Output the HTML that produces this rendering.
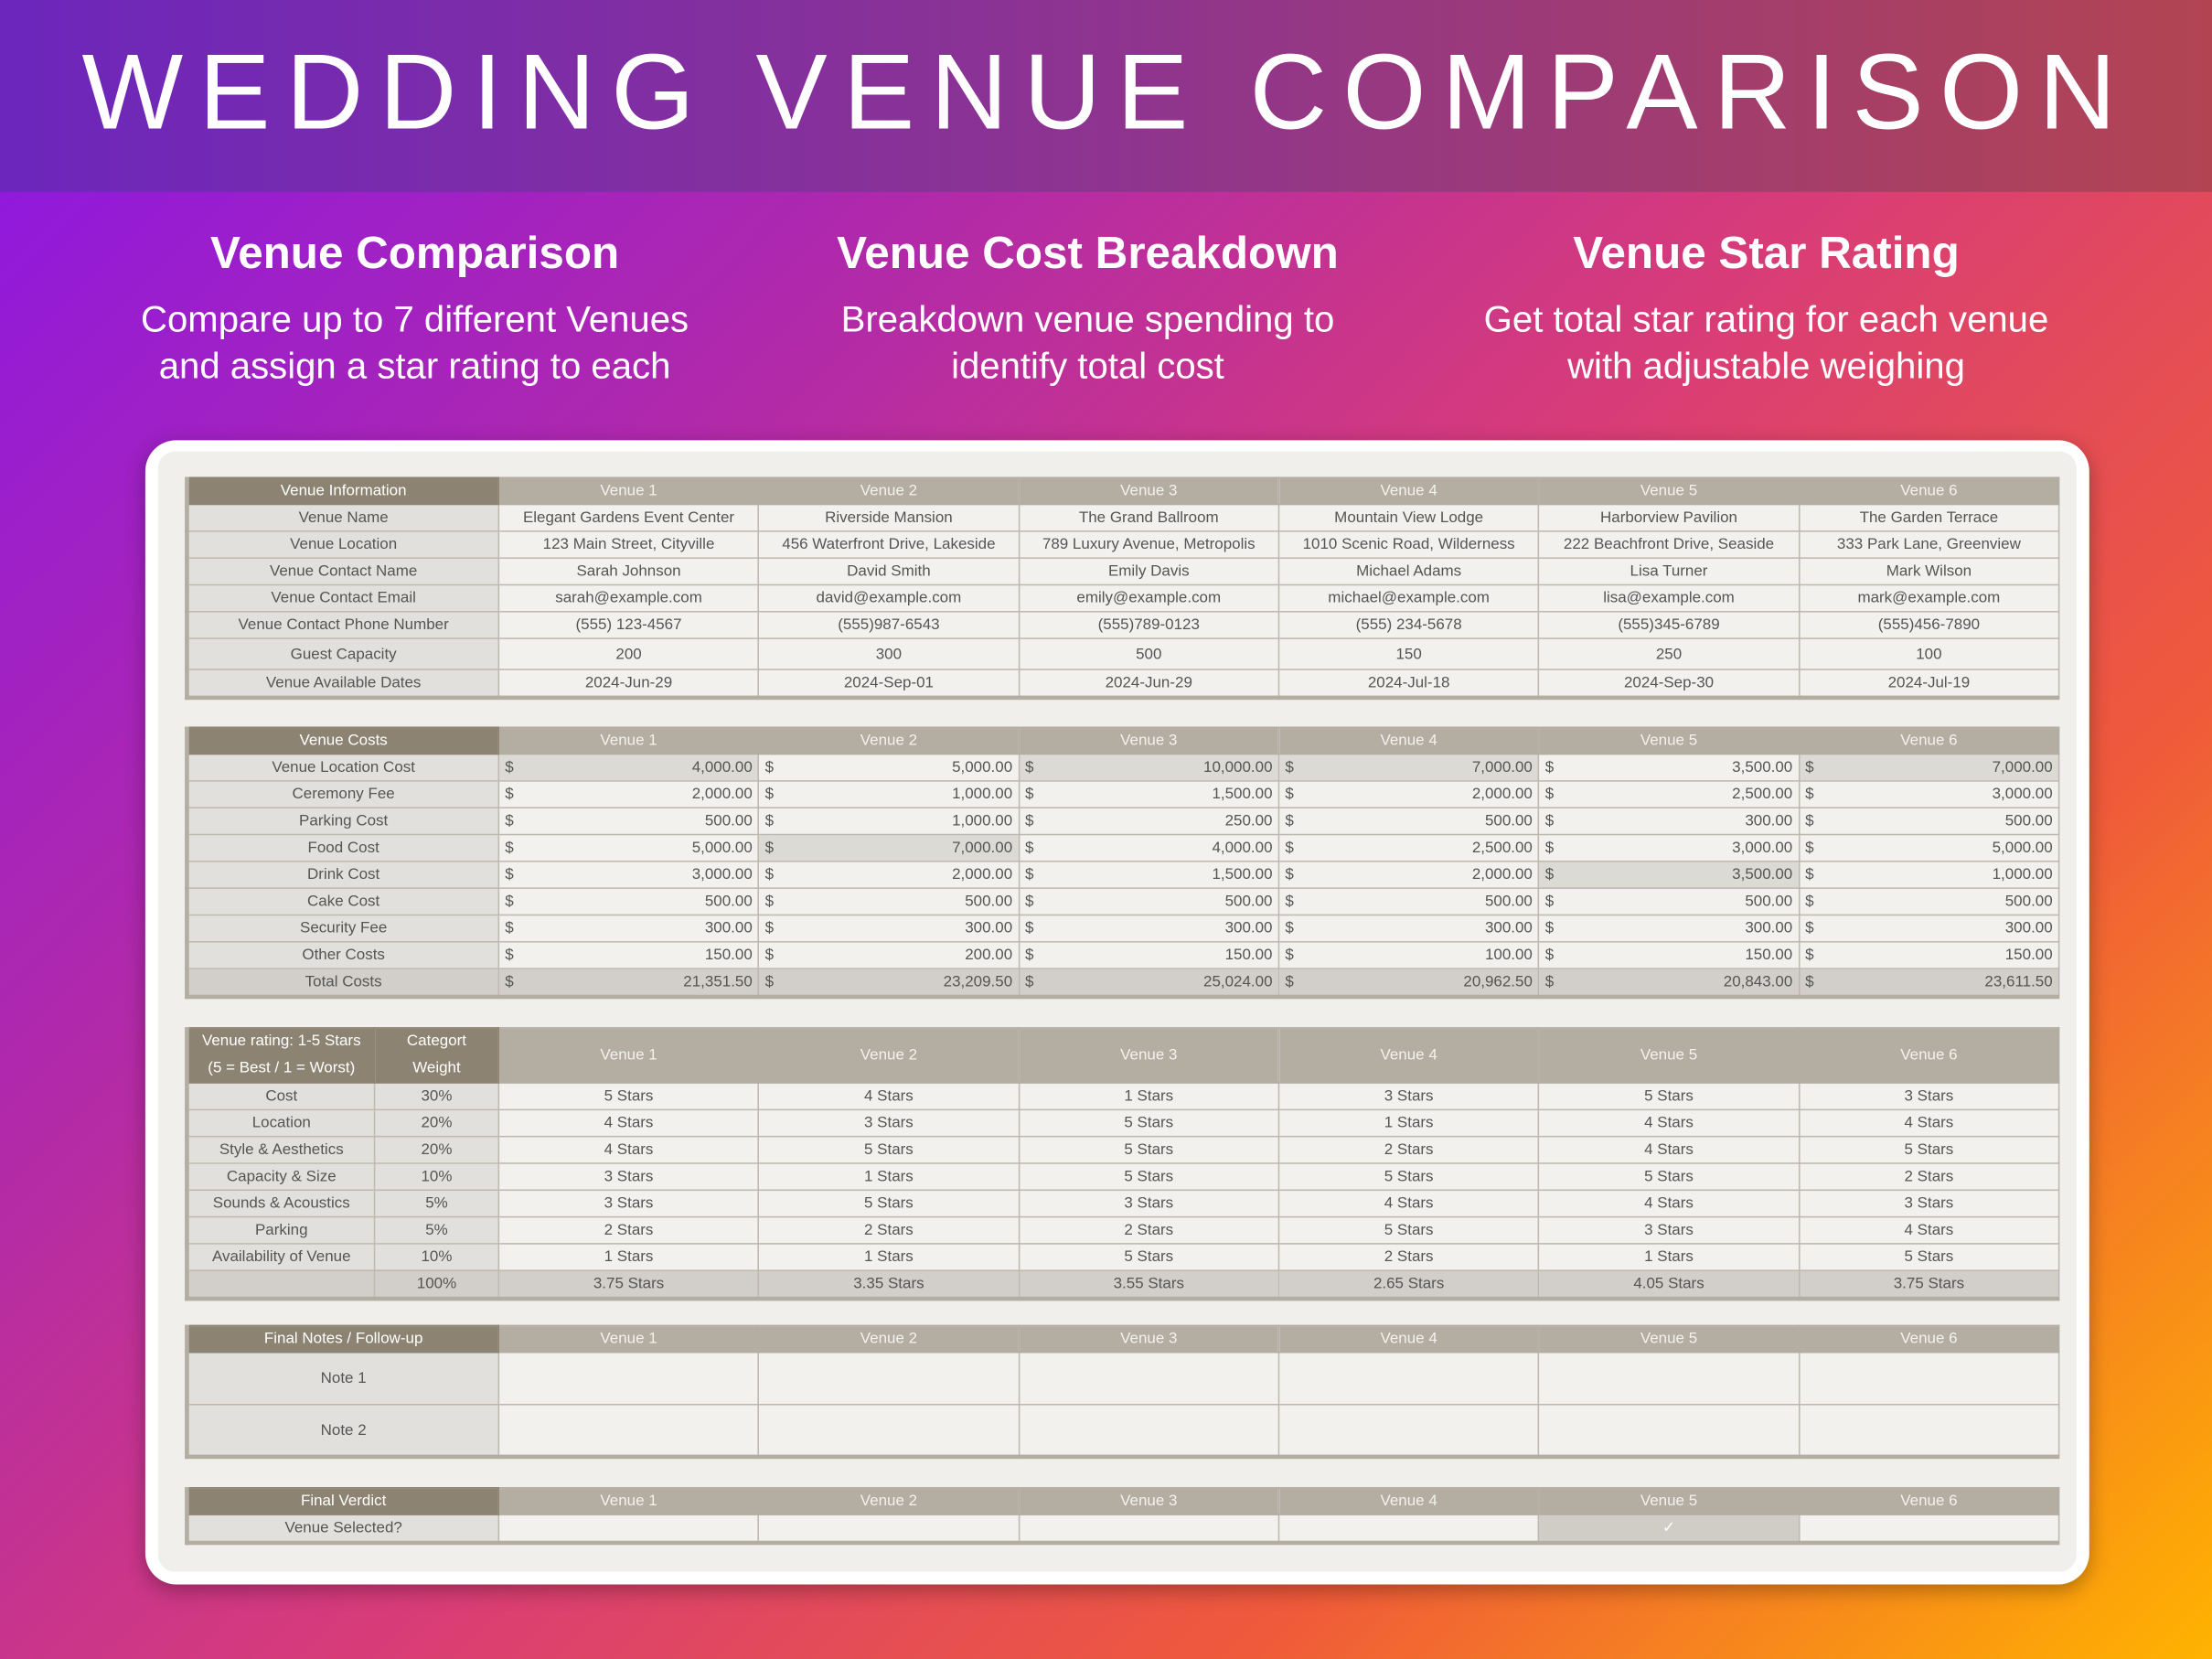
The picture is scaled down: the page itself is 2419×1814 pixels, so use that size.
<!DOCTYPE html>
<html><head><meta charset="utf-8">
<style>
html,body{margin:0;padding:0;width:2419px;height:1814px;overflow:hidden;}
#w{position:absolute;left:0;top:0;width:1568px;height:1176px;transform:scale(1.54273);transform-origin:0 0;
 background:linear-gradient(135deg,#8a16e6 0%,#b22aa8 30%,#d83c78 52%,#ef5a3a 75%,#ffb300 100%);
 font-family:"Liberation Sans",sans-serif;overflow:hidden;}
#hd{position:absolute;left:0;top:0;width:1568px;height:136px;background:linear-gradient(90deg,#6c26bc,#8e3490 50%,#b24452);}
#hd svg{position:absolute;left:0;top:0}
.f{position:absolute;top:158px;width:520px;text-align:center;color:#fff;font-family:"Liberation Sans",sans-serif}
.f b{display:block;font-size:32px;line-height:42px;}
.f span{display:block;font-size:26px;line-height:33px;margin-top:10px}
#card{position:absolute;left:103px;top:312px;width:1378px;height:811px;background:#fff;border-radius:22px;box-shadow:0 4px 14px rgba(0,0,0,.3)}
#in{position:absolute;left:9px;top:8px;width:1360px;height:794px;background:#f0efeb;border-radius:12px}
table{position:absolute;left:131px;border-collapse:collapse;table-layout:fixed;width:1329px;font-size:11px;color:#555;}
td{border:1px solid #bdb8b0;text-align:center;padding:0 4px;height:18px;line-height:18px;white-space:nowrap;overflow:hidden;background:#f2f1ee}
td.l{background:#e1e0dc}
tr.h td{background:#b3ada2;color:#f4f2ee;border-color:#b3ada2}
tr.h td.l{background:#8d8372;color:#fff;border-color:#8d8372}
table{border-bottom:3px solid #b3ada2;border-left:3px solid #b3ada2}
td.m{text-align:right}
td.m i{float:left;font-style:normal}
tr.t td{background:#d2cfca}
.g{background:#dcdad5!important}
</style></head><body><div id="w">
<div id="hd"><svg width="1568" height="136"><text x="58" y="91" textLength="1442" lengthAdjust="spacing" fill="#fff" font-family="Liberation Sans, sans-serif" font-size="76">WEDDING VENUE COMPARISON</text></svg></div>
<div class="f" style="left:34px"><b>Venue Comparison</b><span>Compare up to 7 different Venues<br>and assign a star rating to each</span></div>
<div class="f" style="left:511px"><b>Venue Cost Breakdown</b><span>Breakdown venue spending to<br>identify total cost</span></div>
<div class="f" style="left:992px"><b>Venue Star Rating</b><span>Get total star rating for each venue<br>with adjustable weighing</span></div>
<div id="card"><div id="in"></div></div>

<table style="top:338px"><colgroup><col style="width:221px"><col><col><col><col><col><col></colgroup>
<tr class="h"><td class="l">Venue Information</td><td>Venue 1</td><td>Venue 2</td><td>Venue 3</td><td>Venue 4</td><td>Venue 5</td><td>Venue 6</td></tr>
<tr><td class="l">Venue Name</td><td>Elegant Gardens Event Center</td><td>Riverside Mansion</td><td>The Grand Ballroom</td><td>Mountain View Lodge</td><td>Harborview Pavilion</td><td>The Garden Terrace</td></tr>
<tr><td class="l">Venue Location</td><td>123 Main Street, Cityville</td><td>456 Waterfront Drive, Lakeside</td><td>789 Luxury Avenue, Metropolis</td><td>1010 Scenic Road, Wilderness</td><td>222 Beachfront Drive, Seaside</td><td>333 Park Lane, Greenview</td></tr>
<tr><td class="l">Venue Contact Name</td><td>Sarah Johnson</td><td>David Smith</td><td>Emily Davis</td><td>Michael Adams</td><td>Lisa Turner</td><td>Mark Wilson</td></tr>
<tr><td class="l">Venue Contact Email</td><td>sarah@example.com</td><td>david@example.com</td><td>emily@example.com</td><td>michael@example.com</td><td>lisa@example.com</td><td>mark@example.com</td></tr>
<tr><td class="l">Venue Contact Phone Number</td><td>(555) 123-4567</td><td>(555)987-6543</td><td>(555)789-0123</td><td>(555) 234-5678</td><td>(555)345-6789</td><td>(555)456-7890</td></tr>
<tr><td class="l" style="height:21px">Guest Capacity</td><td>200</td><td>300</td><td>500</td><td>150</td><td>250</td><td>100</td></tr>
<tr><td class="l">Venue Available Dates</td><td>2024-Jun-29</td><td>2024-Sep-01</td><td>2024-Jun-29</td><td>2024-Jul-18</td><td>2024-Sep-30</td><td>2024-Jul-19</td></tr>
</table>

<table style="top:515px"><colgroup><col style="width:221px"><col><col><col><col><col><col></colgroup>
<tr class="h"><td class="l">Venue Costs</td><td>Venue 1</td><td>Venue 2</td><td>Venue 3</td><td>Venue 4</td><td>Venue 5</td><td>Venue 6</td></tr>
<tr><td class="l">Venue Location Cost</td><td class="m g"><i>$</i>4,000.00</td><td class="m"><i>$</i>5,000.00</td><td class="m g"><i>$</i>10,000.00</td><td class="m g"><i>$</i>7,000.00</td><td class="m"><i>$</i>3,500.00</td><td class="m g"><i>$</i>7,000.00</td></tr>
<tr><td class="l">Ceremony Fee</td><td class="m"><i>$</i>2,000.00</td><td class="m"><i>$</i>1,000.00</td><td class="m"><i>$</i>1,500.00</td><td class="m"><i>$</i>2,000.00</td><td class="m"><i>$</i>2,500.00</td><td class="m"><i>$</i>3,000.00</td></tr>
<tr><td class="l">Parking Cost</td><td class="m"><i>$</i>500.00</td><td class="m"><i>$</i>1,000.00</td><td class="m"><i>$</i>250.00</td><td class="m"><i>$</i>500.00</td><td class="m"><i>$</i>300.00</td><td class="m"><i>$</i>500.00</td></tr>
<tr><td class="l">Food Cost</td><td class="m"><i>$</i>5,000.00</td><td class="m g"><i>$</i>7,000.00</td><td class="m"><i>$</i>4,000.00</td><td class="m"><i>$</i>2,500.00</td><td class="m"><i>$</i>3,000.00</td><td class="m"><i>$</i>5,000.00</td></tr>
<tr><td class="l">Drink Cost</td><td class="m"><i>$</i>3,000.00</td><td class="m"><i>$</i>2,000.00</td><td class="m"><i>$</i>1,500.00</td><td class="m"><i>$</i>2,000.00</td><td class="m g"><i>$</i>3,500.00</td><td class="m"><i>$</i>1,000.00</td></tr>
<tr><td class="l">Cake Cost</td><td class="m"><i>$</i>500.00</td><td class="m"><i>$</i>500.00</td><td class="m"><i>$</i>500.00</td><td class="m"><i>$</i>500.00</td><td class="m"><i>$</i>500.00</td><td class="m"><i>$</i>500.00</td></tr>
<tr><td class="l">Security Fee</td><td class="m"><i>$</i>300.00</td><td class="m"><i>$</i>300.00</td><td class="m"><i>$</i>300.00</td><td class="m"><i>$</i>300.00</td><td class="m"><i>$</i>300.00</td><td class="m"><i>$</i>300.00</td></tr>
<tr><td class="l">Other Costs</td><td class="m"><i>$</i>150.00</td><td class="m"><i>$</i>200.00</td><td class="m"><i>$</i>150.00</td><td class="m"><i>$</i>100.00</td><td class="m"><i>$</i>150.00</td><td class="m"><i>$</i>150.00</td></tr>
<tr class="t"><td class="l">Total Costs</td><td class="m"><i>$</i>21,351.50</td><td class="m"><i>$</i>23,209.50</td><td class="m"><i>$</i>25,024.00</td><td class="m"><i>$</i>20,962.50</td><td class="m"><i>$</i>20,843.00</td><td class="m"><i>$</i>23,611.50</td></tr>
</table>

<table style="top:728px"><colgroup><col style="width:133px"><col style="width:88px"><col><col><col><col><col><col></colgroup>
<tr class="h"><td class="l" style="height:37px;line-height:19px">Venue rating: 1-5 Stars<br>(5 = Best / 1 = Worst)</td><td class="l" style="line-height:19px">Categort<br>Weight</td><td>Venue 1</td><td>Venue 2</td><td>Venue 3</td><td>Venue 4</td><td>Venue 5</td><td>Venue 6</td></tr>
<tr><td class="l">Cost</td><td class="l">30%</td><td>5 Stars</td><td>4 Stars</td><td>1 Stars</td><td>3 Stars</td><td>5 Stars</td><td>3 Stars</td></tr>
<tr><td class="l">Location</td><td class="l">20%</td><td>4 Stars</td><td>3 Stars</td><td>5 Stars</td><td>1 Stars</td><td>4 Stars</td><td>4 Stars</td></tr>
<tr><td class="l">Style &amp; Aesthetics</td><td class="l">20%</td><td>4 Stars</td><td>5 Stars</td><td>5 Stars</td><td>2 Stars</td><td>4 Stars</td><td>5 Stars</td></tr>
<tr><td class="l">Capacity &amp; Size</td><td class="l">10%</td><td>3 Stars</td><td>1 Stars</td><td>5 Stars</td><td>5 Stars</td><td>5 Stars</td><td>2 Stars</td></tr>
<tr><td class="l">Sounds &amp; Acoustics</td><td class="l">5%</td><td>3 Stars</td><td>5 Stars</td><td>3 Stars</td><td>4 Stars</td><td>4 Stars</td><td>3 Stars</td></tr>
<tr><td class="l">Parking</td><td class="l">5%</td><td>2 Stars</td><td>2 Stars</td><td>2 Stars</td><td>5 Stars</td><td>3 Stars</td><td>4 Stars</td></tr>
<tr><td class="l">Availability of Venue</td><td class="l">10%</td><td>1 Stars</td><td>1 Stars</td><td>5 Stars</td><td>2 Stars</td><td>1 Stars</td><td>5 Stars</td></tr>
<tr class="t"><td class="l"></td><td class="l" style="background:#d2cfca">100%</td><td>3.75 Stars</td><td>3.35 Stars</td><td>3.55 Stars</td><td>2.65 Stars</td><td>4.05 Stars</td><td>3.75 Stars</td></tr>
</table>

<table style="top:939px"><colgroup><col style="width:221px"><col><col><col><col><col><col></colgroup>
<tr class="h"><td class="l">Final Notes / Follow-up</td><td>Venue 1</td><td>Venue 2</td><td>Venue 3</td><td>Venue 4</td><td>Venue 5</td><td>Venue 6</td></tr>
<tr><td class="l" style="height:36px">Note 1</td><td></td><td></td><td></td><td></td><td></td><td></td></tr>
<tr><td class="l" style="height:35px">Note 2</td><td></td><td></td><td></td><td></td><td></td><td></td></tr>
</table>

<table style="top:1054px"><colgroup><col style="width:221px"><col><col><col><col><col><col></colgroup>
<tr class="h"><td class="l">Final Verdict</td><td>Venue 1</td><td>Venue 2</td><td>Venue 3</td><td>Venue 4</td><td>Venue 5</td><td>Venue 6</td></tr>
<tr><td class="l">Venue Selected?</td><td></td><td></td><td></td><td></td><td style="background:#d0cdc7;color:#fff">✓</td><td></td></tr>
</table>
</div></body></html>
